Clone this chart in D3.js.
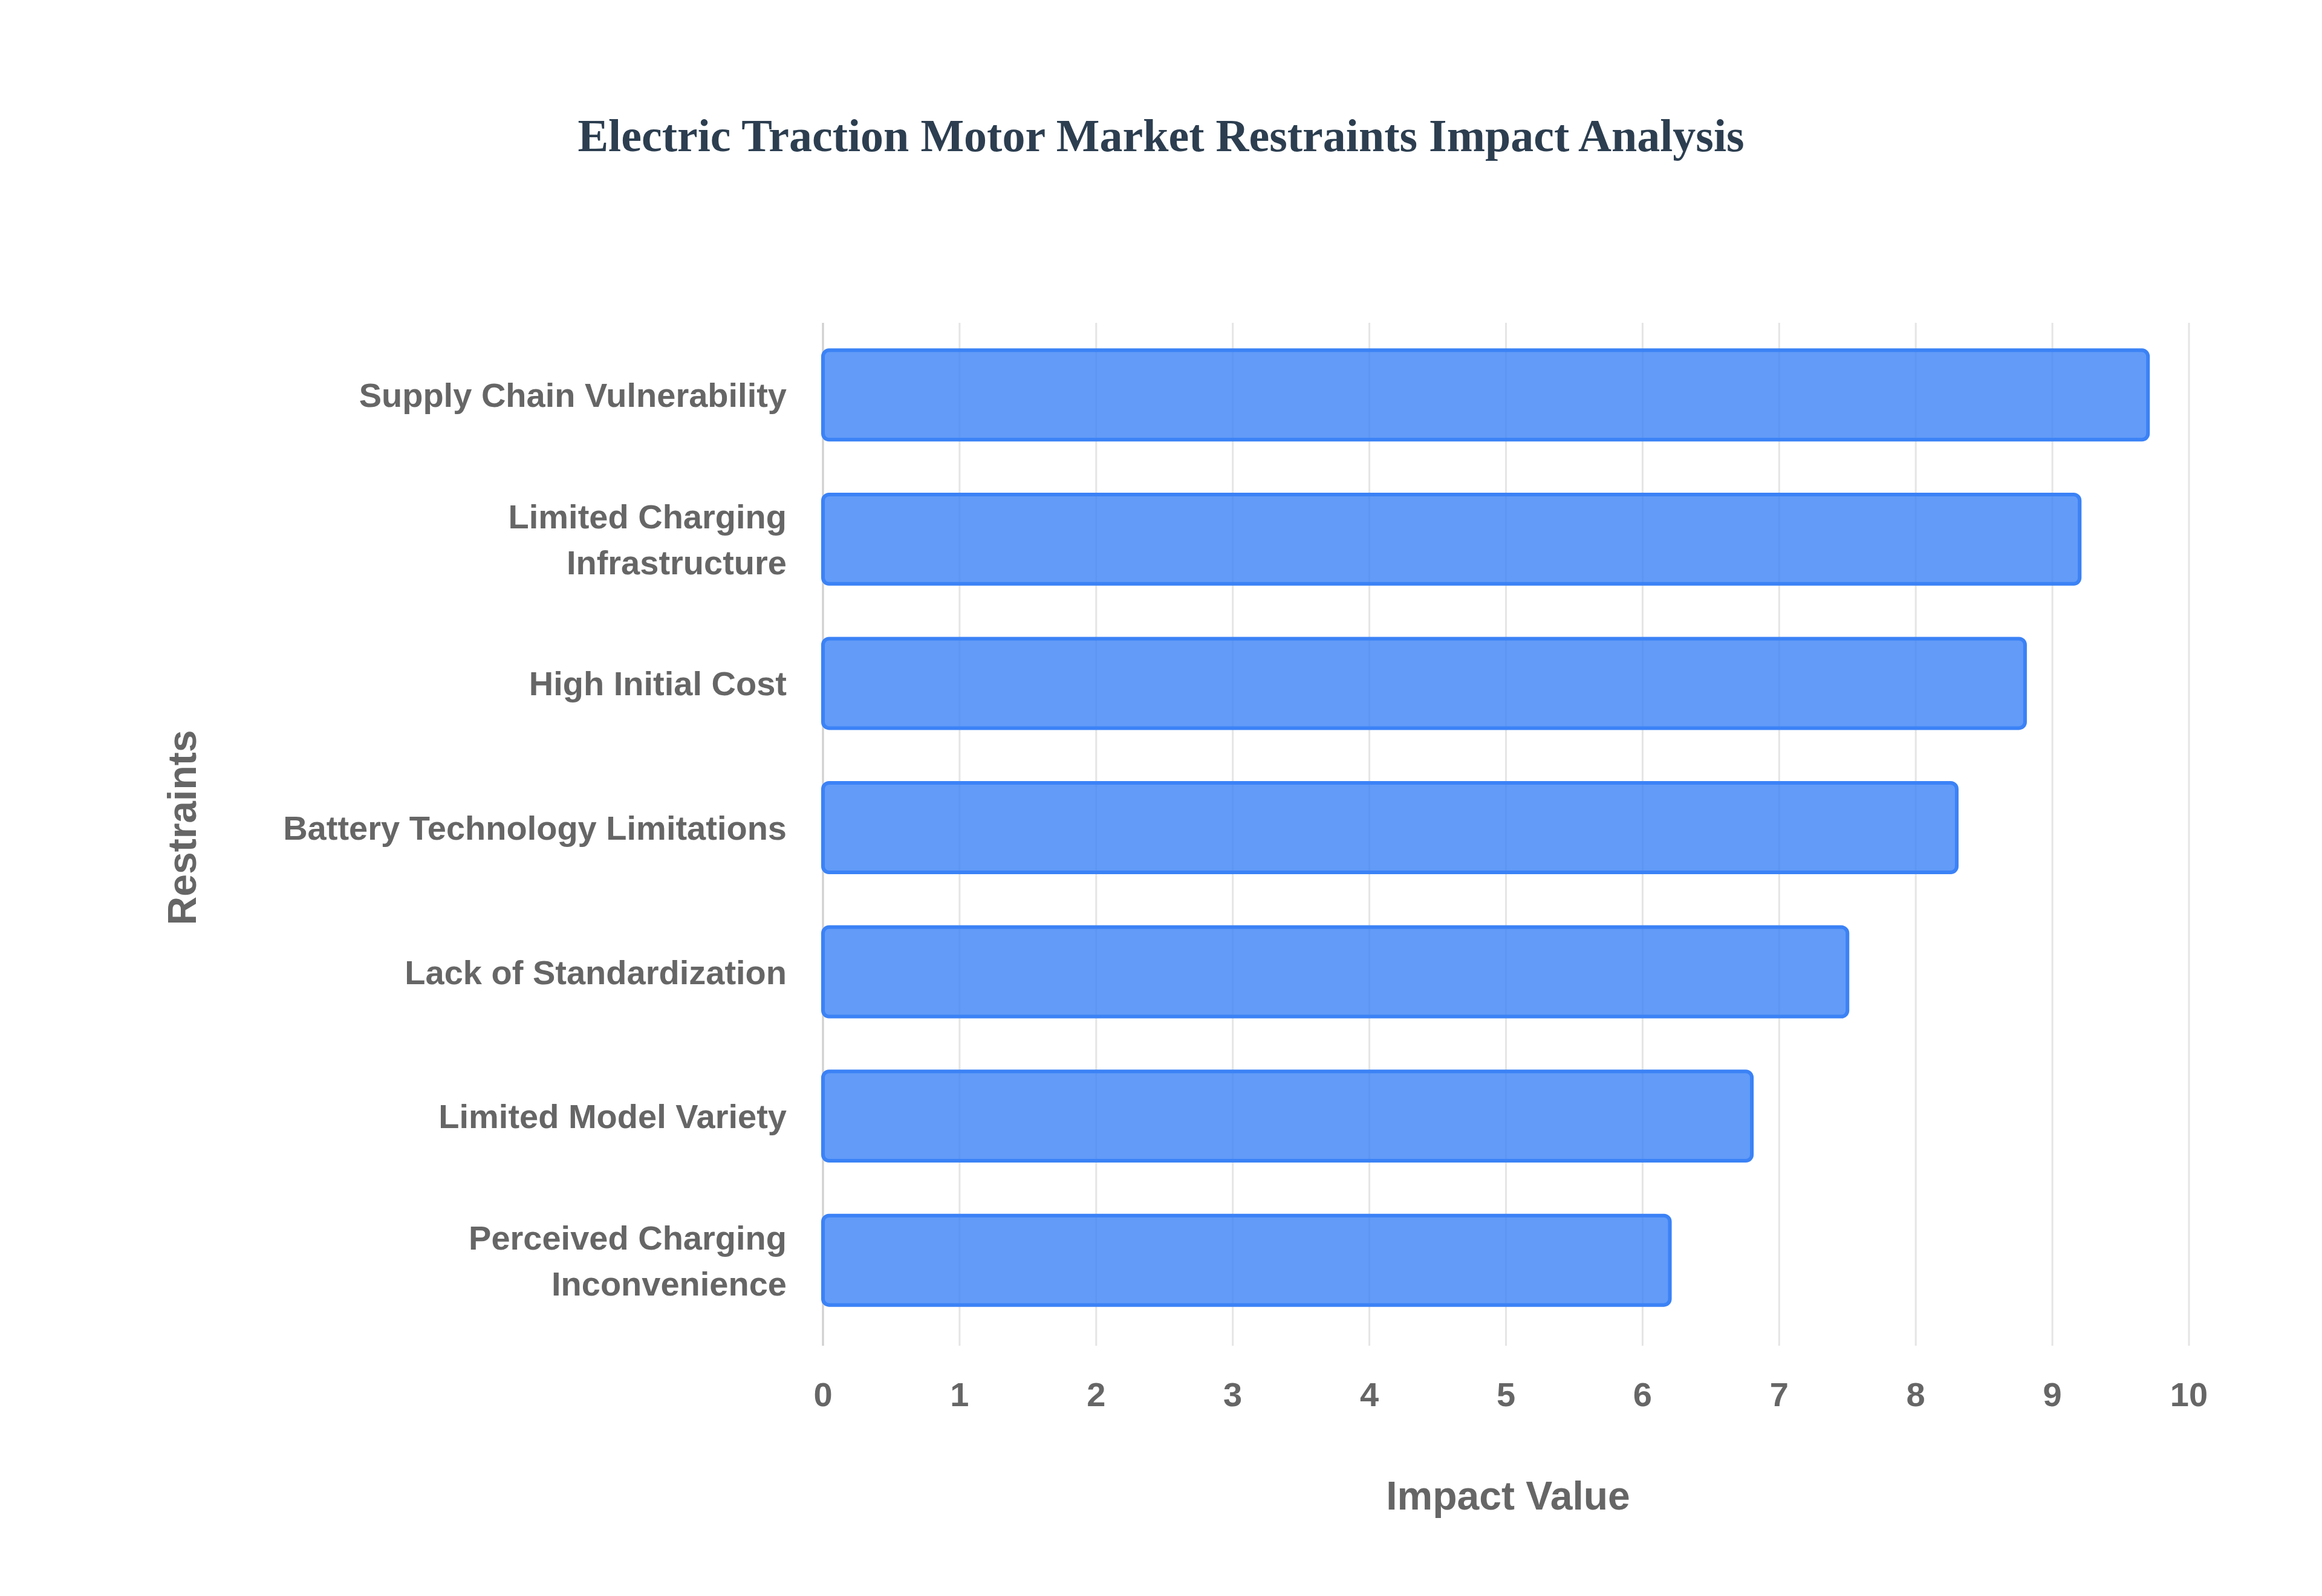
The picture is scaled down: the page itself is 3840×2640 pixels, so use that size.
<!DOCTYPE html>
<html><head><meta charset="utf-8">
<script src="https://cdn.jsdelivr.net/npm/d3@7"></script>
<style>body{margin:0;background:#fff}</style></head>
<body><svg id="c" width="3840" height="2640"></svg>
<script>
const categories = [["Supply Chain Vulnerability"],["Limited Charging","Infrastructure"],["High Initial Cost"],["Battery Technology Limitations"],["Lack of Standardization"],["Limited Model Variety"],["Perceived Charging","Inconvenience"]];
const values = [9.7, 9.2, 8.8, 8.3, 7.5, 6.8, 6.2];
const xTicks = [0,1,2,3,4,5,6,7,8,9,10];

const svg = d3.select("#c");
const L = 1361, R = 3620, T = 534, B = 2204;
const x = d3.scaleLinear().domain([0,10]).range([L,R]);
const y = d3.scaleBand().domain(d3.range(categories.length)).range([T,B]).paddingInner(0.38).paddingOuter(0.19);

svg.append("text").attr("x",1920).attr("y",250).attr("text-anchor","middle")
  .attr("font-family","Liberation Serif, Times New Roman, serif").attr("font-weight","bold")
  .attr("font-size",76).attr("fill","#2c3e50").text("Electric Traction Motor Market Restraints Impact Analysis");

// grid
svg.append("g").selectAll("line").data(xTicks).join("line")
  .attr("x1",d=>x(d)).attr("x2",d=>x(d)).attr("y1",T).attr("y2",B+22)
  .attr("stroke","#e5e5e5").attr("stroke-width",3);
svg.append("line").attr("x1",L).attr("x2",L).attr("y1",T).attr("y2",B+22).attr("stroke","#d0d0d0").attr("stroke-width",3);

// bars
svg.append("g").selectAll("rect").data(values).join("rect")
  .attr("x",x(0)).attr("y",(d,i)=>y(i)).attr("width",d=>x(d)-x(0)).attr("height",y.bandwidth())
  .attr("rx",10).attr("fill","rgba(59,130,246,0.8)").attr("stroke","#3b82f6").attr("stroke-width",6);

const font = "Liberation Sans, Arial, sans-serif";
// y labels
const yl = svg.append("g").selectAll("text").data(categories).join("text")
  .attr("x",L-60).attr("text-anchor","end").attr("font-family",font).attr("font-weight","bold")
  .attr("font-size",56).attr("fill","#666");
yl.each(function(d,i){
  const c = y(i)+y.bandwidth()/2, n=d.length, lh=76;
  d3.select(this).selectAll("tspan").data(d).join("tspan")
    .attr("x",L-60).attr("y",(t,j)=>c+(j-(n-1)/2)*lh+20).text(t=>t);
});
// x ticks
svg.append("g").selectAll("text").data(xTicks).join("text")
  .attr("x",d=>x(d)).attr("y",2326).attr("text-anchor","middle").attr("font-family",font)
  .attr("font-weight","bold").attr("font-size",56).attr("fill","#666").text(d=>d);
svg.append("text").attr("x",2494).attr("y",2497).attr("text-anchor","middle").attr("font-family",font)
  .attr("font-weight","bold").attr("font-size",66).attr("fill","#666").text("Impact Value");
svg.append("text").attr("transform","translate(324,1369) rotate(-90)").attr("text-anchor","middle").attr("font-family",font)
  .attr("font-weight","bold").attr("font-size",66).attr("fill","#666").text("Restraints");
</script></body></html>
